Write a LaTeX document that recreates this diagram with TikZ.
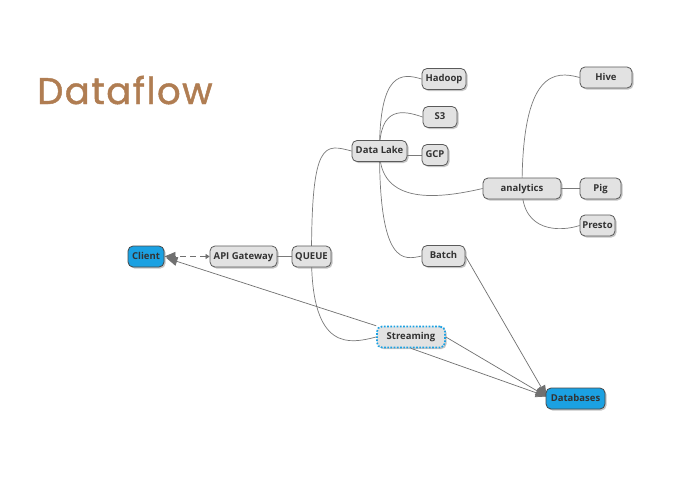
\documentclass[tikz,border=0pt]{standalone}
\usepackage{fontspec}
\setmainfont{Open Sans}
\newfontfamily\titlefont[FakeBold=1.2,LetterSpace=4]{Poppins}
\usetikzlibrary{arrows.meta,shadows,calc}
\pgfdeclarelayer{bg}
\pgfsetlayers{bg,main}
\definecolor{nodefill}{HTML}{E2E2E2}
\definecolor{nodeborder}{HTML}{5A5A5A}
\definecolor{bluefill}{HTML}{1BA1E2}
\definecolor{edgecol}{HTML}{7A7A7A}
\definecolor{arrowcol}{HTML}{707070}
\definecolor{titlecol}{HTML}{B07D52}
\definecolor{txtcol}{HTML}{333333}
\begin{document}
\begin{tikzpicture}[x=1pt,y=-1pt,
  box/.style={draw=nodeborder, fill=nodefill, rounded corners=5pt, line width=0.8pt,
    minimum height=21pt, inner xsep=2pt, inner ysep=0pt, text height=6.8pt, text depth=1pt,
    font=\fontsize{9.5}{11}\selectfont\bfseries, text=txtcol,
    drop shadow={shadow xshift=1.5pt, shadow yshift=-1.5pt, opacity=0.45}},
  bluebox/.style={box, fill=bluefill, draw=nodeborder!80!black, text=black!80},
  dotbox/.style={box, draw=bluefill, line width=1.7pt, dash pattern=on 1.7pt off 1.5pt},
  edge/.style={draw=edgecol, line width=0.7pt},
  arr/.style={draw=arrowcol, line width=0.7pt, -{Triangle[length=11pt,width=9pt]}},
]
\useasboundingbox (0,0) rectangle (679,479);

\node[anchor=base west, text=titlecol, inner sep=0pt,
  font=\titlefont\fontsize{37}{40}\selectfont] (title) at (37,104) {Dataflow};

\node[bluebox, minimum width=36pt] (cl) at (146,256.5) {Client};
\node[box, minimum width=67pt] (api) at (243.5,256.5) {API Gateway};
\node[box, minimum width=39pt] (q) at (311.5,256.5) {QUEUE};
\node[box, minimum width=55pt] (dl) at (379.5,151) {Data Lake};
\node[box, minimum width=44pt] (had) at (444,79) {Hadoop};
\node[box, minimum width=34pt] (s3) at (440,117) {S3};
\node[box, minimum width=26pt] (gcp) at (435,155) {GCP};
\node[box, minimum width=78pt] (an) at (522,188.5) {analytics};
\node[box, minimum width=43pt] (bat) at (443.5,256) {Batch};
\node[box, minimum width=52pt] (hive) at (606,77.5) {Hive};
\node[box, minimum width=41pt] (pig) at (600.5,188.5) {Pig};
\node[box, minimum width=35pt] (pre) at (597.5,225.5) {Presto};
\node[dotbox, minimum width=68pt] (st) at (411,337) {Streaming};
\node[bluebox, minimum width=59pt] (db) at (575.5,398.5) {Databases};
\coordinate (dbin) at ($(db.west)+(1,-2)$);
\coordinate (clin) at ($(cl.east)+(2,1.5)$);

\begin{pgfonlayer}{bg}
\fill[white] (0,0) rectangle (679,479);
\draw[edge] (api) -- (q);
\draw[edge] (q.center) .. controls ($(q.center)+(0,-117)$) and ($(dl.west)+(-27,-7)$) .. (dl.west);
\draw[edge] (q.center) .. controls ($(q.center)+(0,95)$) and ($(st.west)+(-27,7)$) .. (st.west);
\draw[edge] (dl.center) .. controls ($(dl.center)+(0,-80)$) and ($(had.west)+(-20,-6)$) .. (had.west);
\draw[edge] (dl.center) .. controls ($(dl.center)+(0,-45)$) and ($(s3.west)+(-20,-7)$) .. (s3.west);
\draw[edge] (gcp.west) -- (gcp.west -| dl.east);
\draw[edge] (dl.center) .. controls ($(dl.center)+(0,55)$) and ($(an.west)+(-43,10)$) .. (an.west);
\draw[edge] (dl.center) .. controls ($(dl.center)+(0,115)$) and ($(bat.west)+(-18,4)$) .. (bat.west);
\draw[edge] (an.center) .. controls ($(an.center)+(0,-118)$) and ($(hive.west)+(-25,-7)$) .. (hive.west);
\draw[edge] (an) -- (pig);
\draw[edge] (an.center) .. controls ($(an.center)+(0,45)$) and ($(pre.west)+(-18,6)$) .. (pre.west);

\draw[draw=arrowcol, line width=0.7pt, dash pattern=on 6pt off 4pt,
  {Triangle[length=4pt,width=5pt]}-{Triangle[length=11pt,width=9pt]}] (api) -- (cl);
\draw[arr] (st) -- (clin);
\draw[arr] (st.east) -- (dbin);
\draw[arr] (st.south) -- (dbin);
\draw[arr] (bat.east) -- (dbin);
\end{pgfonlayer}
\end{tikzpicture}
\end{document}
